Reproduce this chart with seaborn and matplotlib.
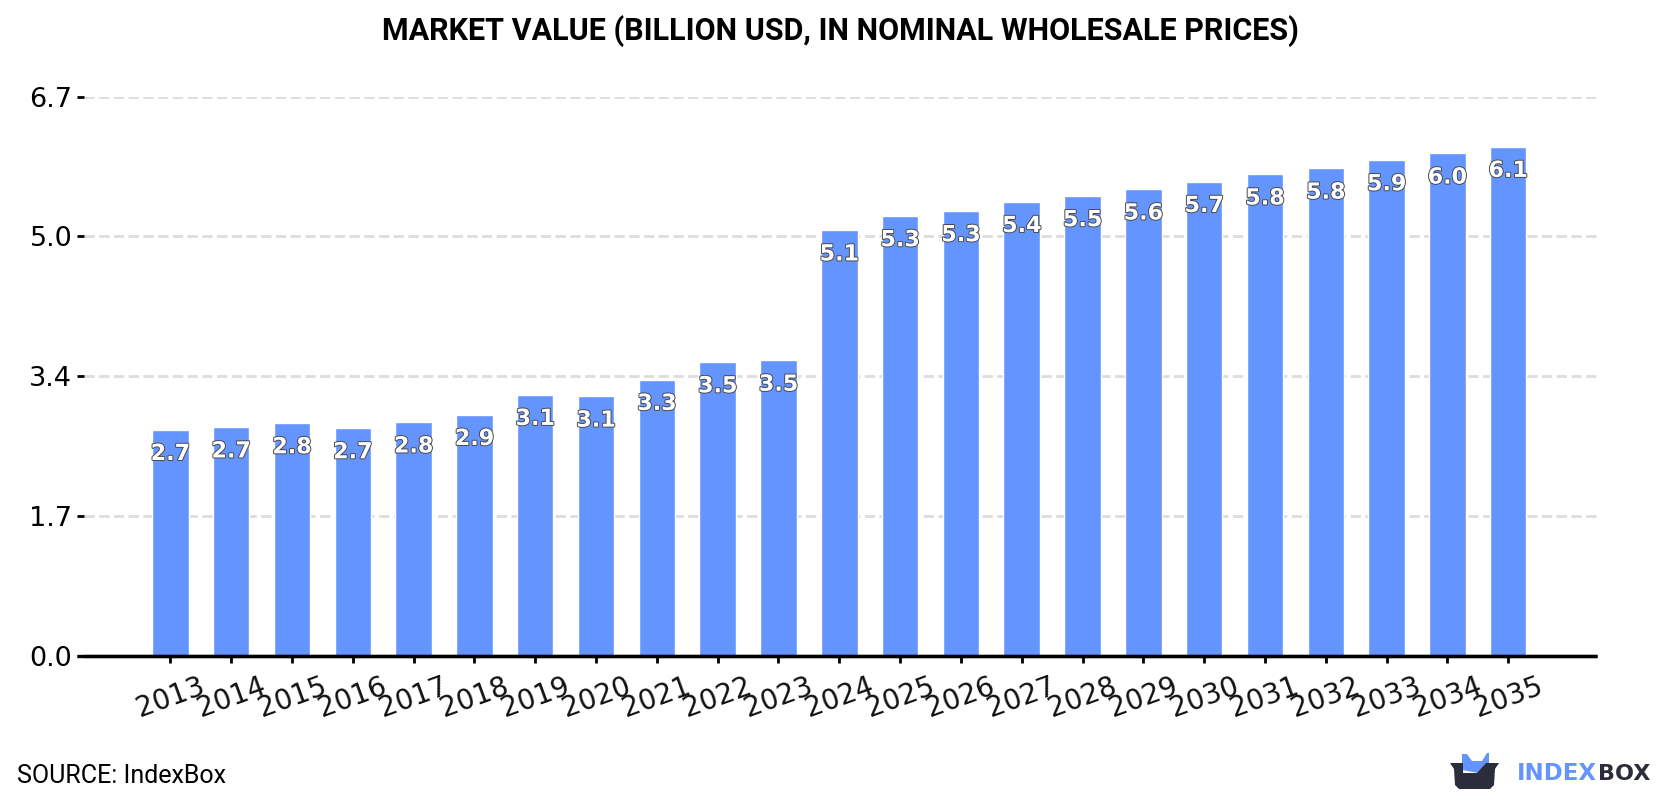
import matplotlib
matplotlib.use("Agg")
import matplotlib.pyplot as plt
import matplotlib.patheffects as pe
from matplotlib.patches import Polygon
import pandas as pd
import seaborn as sns

# Market value series, billion USD
years = [str(y) for y in range(2013, 2036)]
values = [2.71, 2.74, 2.79, 2.73, 2.80, 2.89, 3.13, 3.11, 3.31, 3.52, 3.54, 5.10,
          5.27, 5.33, 5.44, 5.51, 5.59, 5.68, 5.77, 5.84, 5.94, 6.02, 6.10]
y_ticks = [0.0, 1.675, 3.35, 5.025, 6.7]
title_text = "MARKET VALUE (BILLION USD, IN NOMINAL WHOLESALE PRICES)"
source_text = "SOURCE: IndexBox"

BLUE = "#6495FF"
DARK = "#2B2D3A"
W, H = 1680, 800

sns.set_theme(style="white")
plt.rcParams["font.family"] = ["DejaVu Sans"]

fig = plt.figure(figsize=(W / 100, H / 100), dpi=100, facecolor="white")
ax = fig.add_axes([84 / W, 1 - 656 / H, (1597 - 84) / W, (656 - 96.5) / H])

df = pd.DataFrame({"year": years, "value": values})
sns.barplot(data=df, x="year", y="value", color=BLUE, saturation=1, width=0.6, ax=ax, zorder=3)

ax.set_xlim(-1.42, 23.46)
ax.set_ylim(0, 6.7)
ax.set_xlabel("")
ax.set_ylabel("")
ax.set_yticks(y_ticks)
ax.set_yticklabels([f"{t:.1f}" for t in y_ticks], fontsize=19.5, color="black")
ax.tick_params(axis="y", length=5, width=2, color="black", pad=3.5, left=True)
ax.tick_params(axis="x", length=5, width=2, color="black", pad=6.5, bottom=True)
plt.setp(ax.get_xticklabels(), rotation=20, fontsize=20, color="#111111", ha="center")

ax.grid(axis="y", color="#DDDDDD", linewidth=2, linestyle=(0, (3.7, 1.6)), zorder=0)
ax.set_axisbelow(True)
for side in ("top", "right", "left"):
    ax.spines[side].set_visible(False)
ax.spines["bottom"].set_linewidth(2.4)
ax.spines["bottom"].set_color("black")
ax.spines["bottom"].set_zorder(5)
ax.spines["bottom"].set_capstyle("butt")
# The baseline runs out to the end of the zero tick
ax.plot([-0.0046, 1], [0, 0], transform=ax.transAxes, color="black", linewidth=2.4,
        clip_on=False, zorder=5, solid_capstyle="butt")

# Value labels sit just under each bar top
for i, v in enumerate(values):
    ax.annotate(f"{v:.1f}", (i, v), xytext=(0, -17.5), textcoords="offset points",
                ha="center", va="center", fontsize=16, fontweight="bold", color="white", zorder=6,
                path_effects=[pe.withStroke(linewidth=1.4, foreground="#4A4A4A")])

fig.text(840 / W, 1 - 31 / H, title_text, ha="center", va="center",
         fontsize=22, fontweight="bold", family="Roboto", color="black")
fig.text(17 / W, 1 - 776 / H, source_text, ha="left", va="center",
         fontsize=18, family="Roboto", color="black")

# Brand mark in pixel coordinates
logo = fig.add_axes([0, 0, 1, 1], facecolor="none", zorder=10)
logo.set_xlim(0, W)
logo.set_ylim(H, 0)
logo.axis("off")
logo.add_patch(Polygon([(1462, 770), (1462, 754), (1467, 754), (1472, 761), (1482, 761),
                        (1487, 753), (1489, 753), (1489, 763), (1478, 773)],
                       closed=True, fc=BLUE, ec="none"))
logo.add_patch(Polygon([(1450, 763), (1463, 763), (1463, 773), (1477, 773), (1486, 763), (1499, 763),
                        (1495, 769), (1494, 785), (1490, 789), (1459, 789), (1455, 785), (1454, 769)],
                       closed=True, fc=DARK, ec="none"))
logo.text(1517, 774, "INDEX", ha="left", va="center", fontsize=16.5, fontweight="bold",
          family="DejaVu Sans", color=BLUE)
logo.text(1598, 774, "BOX", ha="left", va="center", fontsize=16, fontweight="bold",
          family="DejaVu Sans", color=DARK)

fig.savefig("out.png", dpi=100, facecolor="white")
